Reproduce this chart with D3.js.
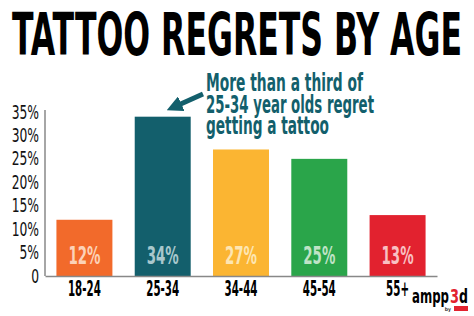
<!DOCTYPE html>
<html>
<head>
<meta charset="utf-8">
<script src="https://cdn.jsdelivr.net/npm/d3@7"></script>
<style>
  body { margin: 0; background: #fff; }
  text { font-family: "DejaVu Sans Condensed", "Liberation Sans Narrow", sans-serif; font-weight: bold; }
</style>
</head>
<body>
<div id="chart"></div>
<script>
// data
var ages = ["18-24", "25-34", "34-44", "45-54", "55+"];
var regret = [12, 34, 27, 25, 13];
var barColors = ["#f26a2b", "#135f6c", "#fbb532", "#2aa54a", "#e2222f"];
var labelColors = ["#fcd2b8", "#a9c8cd", "#fde6b3", "#bfe3c6", "#f8c0c3"];
var yTicks = [0, 5, 10, 15, 20, 25, 30, 35];
var note = ["More than a third of", "25-34 year olds regret", "getting a tattoo"];

var width = 474, height = 316;

// squeeze text horizontally, the fonts here are wider than the original
function squeeze(sel, k) {
  sel.each(function() {
    var w = this.getComputedTextLength();
    d3.select(this).attr("textLength", w * k).attr("lengthAdjust", "spacingAndGlyphs");
  });
}

var svg = d3.select("#chart")
  .append("svg")
  .attr("width", width)
  .attr("height", height);

var x = d3.scaleBand().domain(ages).range([45, 437]).paddingInner(0.285).paddingOuter(0.146);
var y = d3.scaleLinear().domain([0, 35]).range([276, 112]);

// title
svg.append("text")
  .attr("x", 12)
  .attr("y", 55)
  .attr("font-size", 59)
  .attr("textLength", 450)
  .attr("lengthAdjust", "spacingAndGlyphs")
  .attr("fill", "#000")
  .text("TATTOO REGRETS BY AGE");

// y axis
var yAxis = svg.append("g")
  .attr("transform", "translate(45,0)")
  .call(d3.axisLeft(y).tickValues(yTicks).tickSize(0).tickPadding(6)
    .tickFormat(function(d) { return d === 0 ? "0" : d + "%"; }));
yAxis.select(".domain").remove();
yAxis.selectAll("text")
  .attr("font-size", 19)
  .attr("fill", "#111")
  .attr("font-family", null)
  .attr("font-weight", null)
  .style("font-weight", "normal")
  .call(squeeze, 0.72);

// bars
var data = ages.map(function(a, i) { return {age: a, value: regret[i], i: i}; });

svg.selectAll(".bar")
  .data(data)
  .enter().append("rect")
  .attr("class", "bar")
  .attr("x", function(d) { return x(d.age); })
  .attr("y", function(d) { return y(d.value); })
  .attr("width", x.bandwidth())
  .attr("height", function(d) { return y(0) - y(d.value); })
  .attr("fill", function(d) { return barColors[d.i]; });

svg.selectAll(".bar-label")
  .data(data)
  .enter().append("text")
  .attr("class", "bar-label")
  .attr("x", function(d) { return x(d.age) + x.bandwidth() / 2; })
  .attr("y", 264)
  .attr("text-anchor", "middle")
  .attr("font-size", 24)
  .attr("fill", function(d) { return labelColors[d.i]; })
  .text(function(d) { return d.value + "%"; })
  .call(squeeze, 0.62);

// axis lines
svg.append("line")
  .attr("x1", 45).attr("x2", 45)
  .attr("y1", 110).attr("y2", y(0))
  .attr("stroke", "#888").attr("stroke-width", 1.5);

var xAxis = svg.append("g")
  .attr("transform", "translate(0," + y(0) + ")")
  .call(d3.axisBottom(x).tickSize(0).tickPadding(4));
xAxis.select(".domain").attr("stroke", "#888").attr("stroke-width", 1.5);
xAxis.selectAll("text")
  .attr("font-size", 22)
  .attr("fill", "#000")
  .attr("font-family", null)
  .attr("font-weight", null)
  .call(squeeze, 0.52);

// annotation
var noteG = svg.append("g").attr("fill", "#135f6c");
var noteWidths = [157, 168, 123];
noteG.selectAll("text")
  .data(note)
  .enter().append("text")
  .attr("x", 206)
  .attr("y", function(d, i) { return 91 + i * 21.5; })
  .attr("font-size", 24)
  .attr("textLength", function(d, i) { return noteWidths[i]; })
  .attr("lengthAdjust", "spacingAndGlyphs")
  .text(function(d) { return d; });

// arrow
svg.append("defs").append("marker")
  .attr("id", "head")
  .attr("viewBox", "0 0 10 10")
  .attr("refX", 5).attr("refY", 5)
  .attr("markerWidth", 3.2).attr("markerHeight", 3.2)
  .attr("orient", "auto")
  .append("path")
  .attr("d", "M0,0 L10,5 L0,10 z")
  .attr("fill", "#135f6c");

svg.append("line")
  .attr("x1", 203).attr("y1", 94)
  .attr("x2", 174).attr("y2", 107)
  .attr("stroke", "#135f6c")
  .attr("stroke-width", 5)
  .attr("marker-end", "url(#head)");

// logo
var logo = svg.append("g").attr("font-size", 19);
logo.append("text").attr("x", 412).attr("y", 303).attr("fill", "#000")
  .attr("textLength", 37).attr("lengthAdjust", "spacingAndGlyphs").text("ampp");
logo.append("text").attr("x", 450).attr("y", 303).attr("fill", "#e2222f")
  .attr("textLength", 9).attr("lengthAdjust", "spacingAndGlyphs").text("3");
logo.append("text").attr("x", 459).attr("y", 303).attr("fill", "#000")
  .attr("textLength", 9).attr("lengthAdjust", "spacingAndGlyphs").text("d");
logo.append("rect")
  .attr("x", 454).attr("y", 306)
  .attr("width", 14).attr("height", 5)
  .attr("fill", "#e2222f");
logo.append("text")
  .attr("x", 451).attr("y", 311)
  .attr("font-size", 5)
  .attr("text-anchor", "end")
  .attr("fill", "#333")
  .text("by");
</script>
</body>
</html>
